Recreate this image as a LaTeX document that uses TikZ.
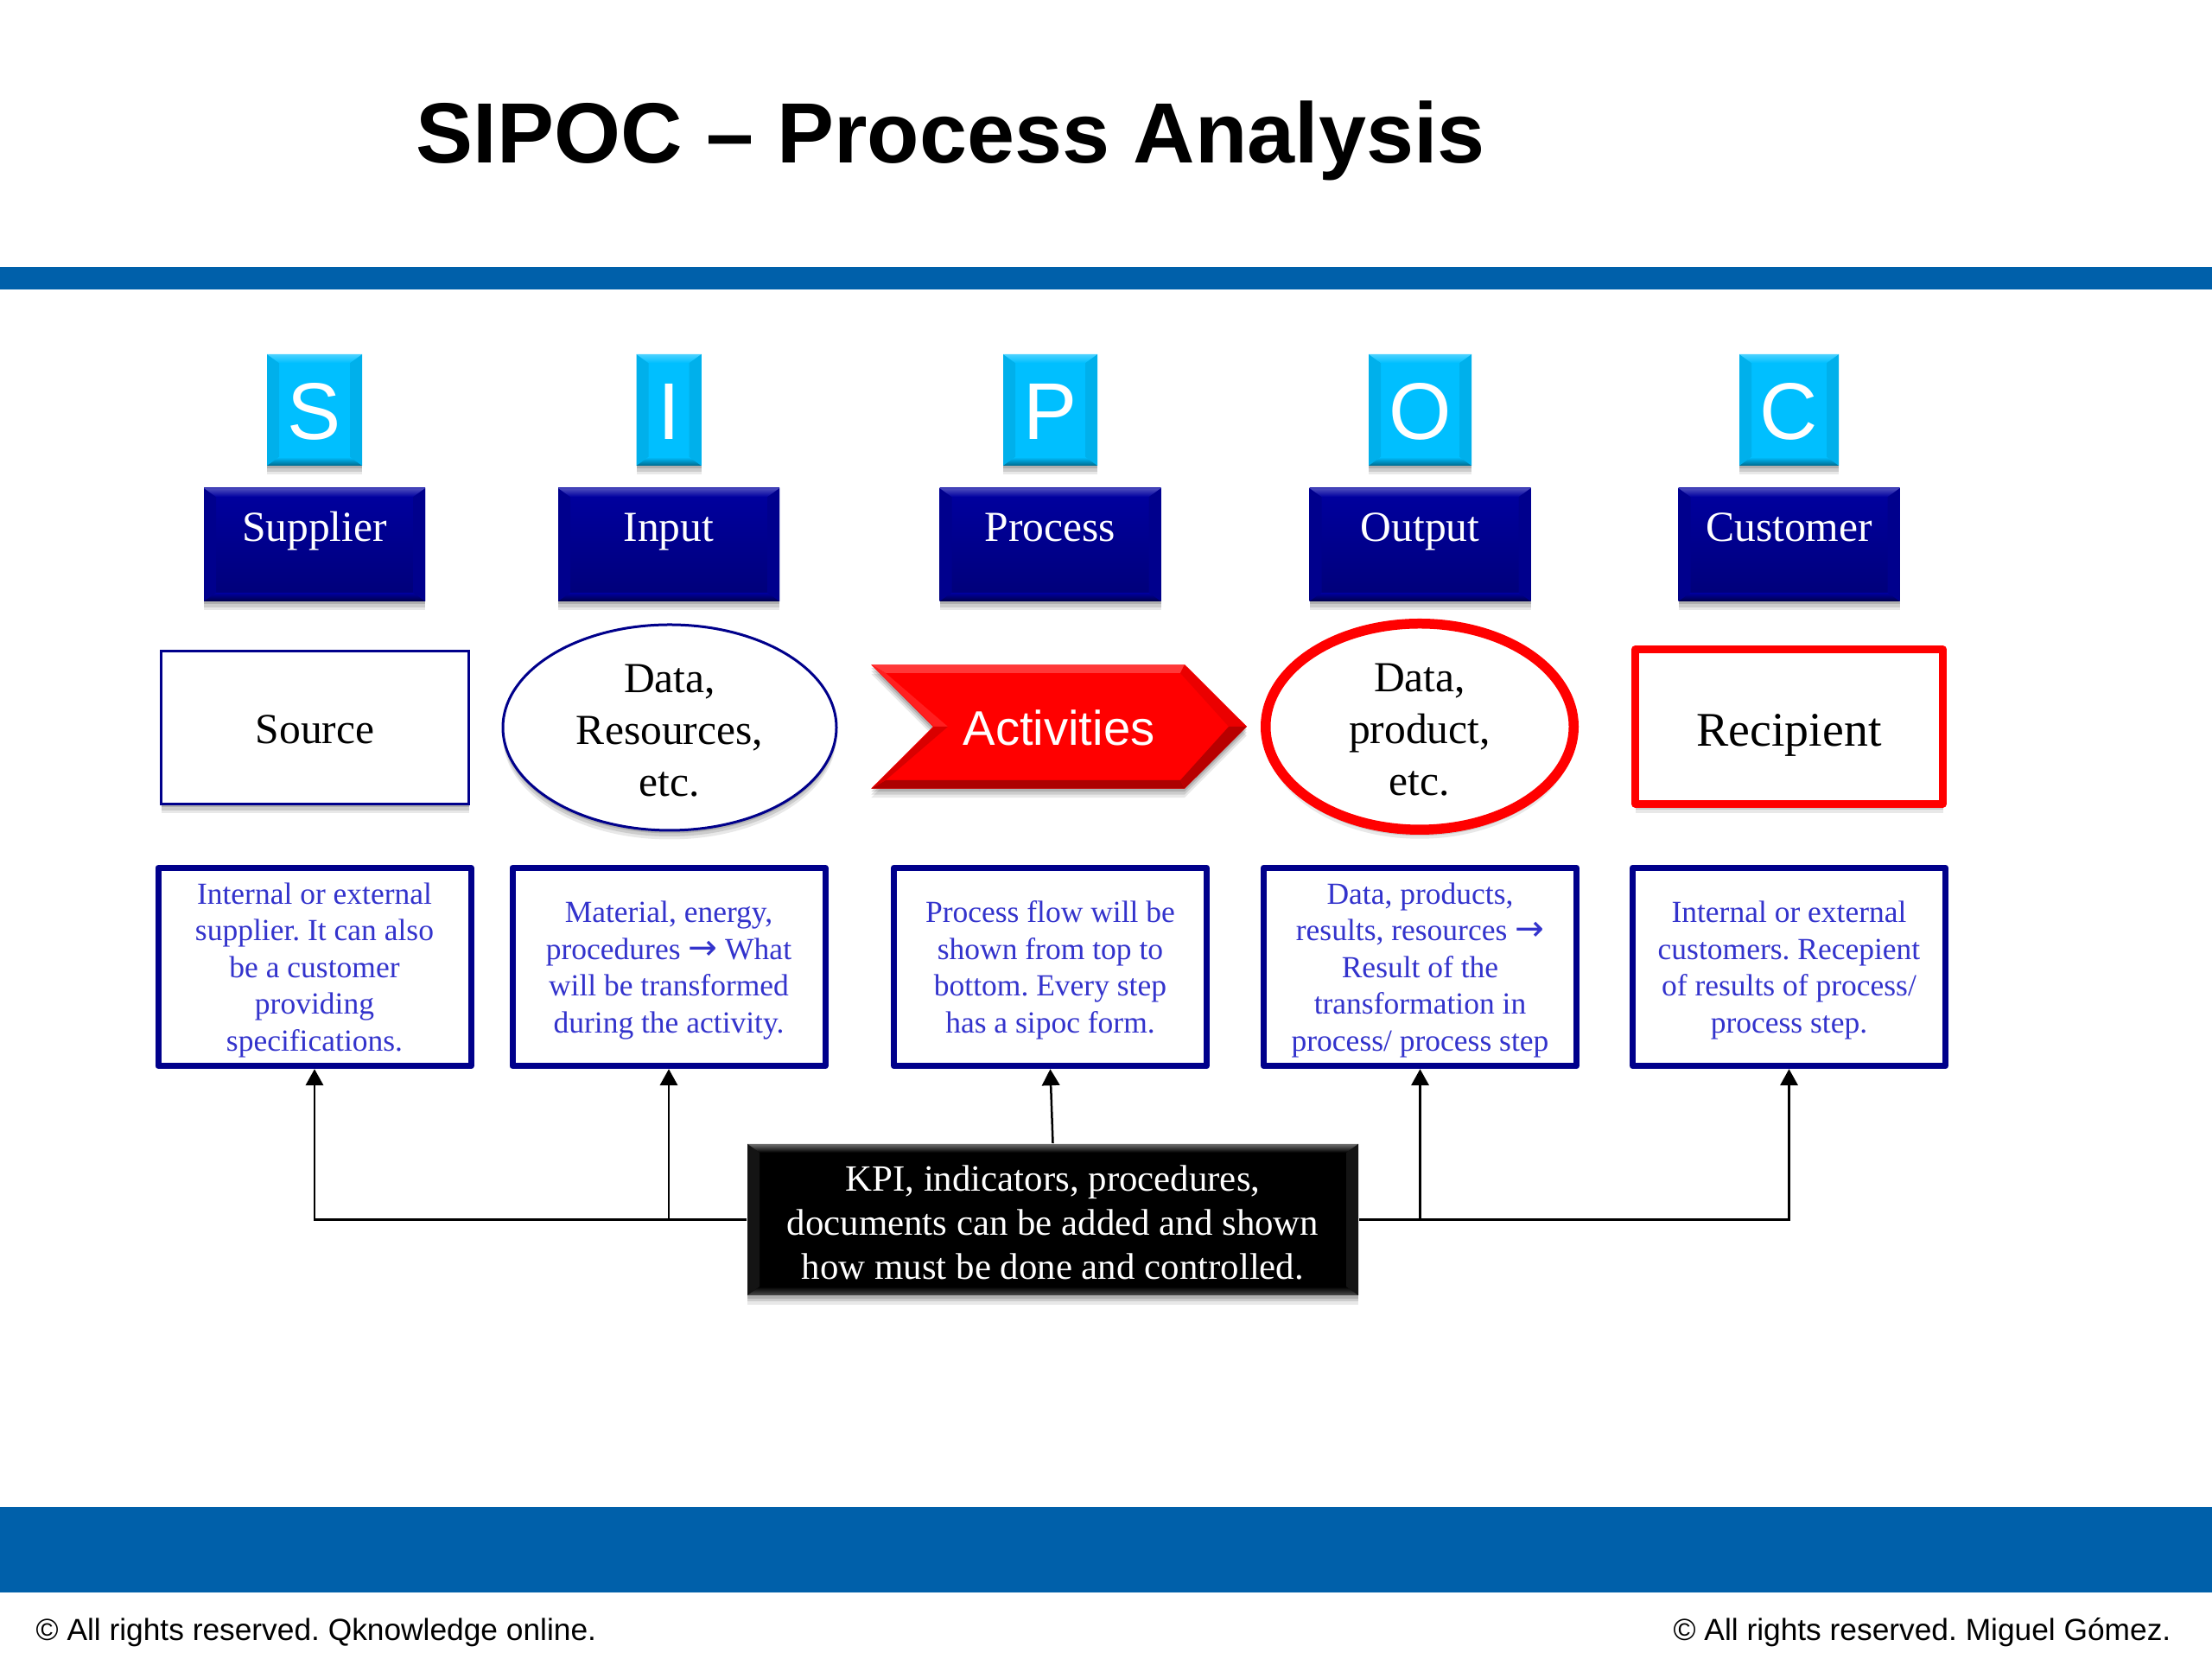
\documentclass[tikz,border=0pt]{standalone}
\usepackage{fontspec}
\setmainfont{Liberation Serif}
\setsansfont{Liberation Sans}
\newfontfamily\arrowfont{DejaVu Sans}
\usetikzlibrary{arrows.meta,shadows,shapes.geometric,shapes.symbols}
\definecolor{barblue}{RGB}{0,96,170}
\definecolor{deepnavy}{RGB}{0,0,139}
\definecolor{notetext}{RGB}{51,51,204}
\definecolor{tilecyan}{RGB}{0,191,255}
\definecolor{tilenavy}{RGB}{0,0,160}
\newcommand{\bevelfaces}[4]{%
	\coordinate (nw) at (path picture bounding box.north west);
	\coordinate (ne) at (path picture bounding box.north east);
	\coordinate (sw) at (path picture bounding box.south west);
	\coordinate (se) at (path picture bounding box.south east);
	\fill[#4] (nw)--(sw)--++(.14,.10)--([shift={(.14,-.10)}]nw)--cycle;
	\fill[#4] (ne)--(se)--++(-.14,.10)--([shift={(-.14,-.10)}]ne)--cycle;
	\shade[top color=#1,bottom color=#2] (nw)--(ne)--++(-.14,-.10)--([shift={(.14,-.10)}]nw)--cycle;
	\shade[top color=#2,bottom color=#3] (sw)--(se)--++(-.14,.10)--([shift={(.14,.10)}]sw)--cycle;
}
\newcommand{\notearrow}{{\arrowfont\fontsize{11.5}{12}\selectfont→}}
\tikzset{
	softshadow/.style={
		drop shadow={shadow xshift=0cm,shadow yshift=-.035cm,opacity=.14,fill=black},
		drop shadow={shadow xshift=0cm,shadow yshift=-.07cm,opacity=.12,fill=black},
		drop shadow={shadow xshift=0cm,shadow yshift=-.105cm,opacity=.09,fill=black}},
	bar/.style={fill=barblue,minimum width=25.6cm,inner sep=0pt},
	lettertile/.style={softshadow,fill=tilecyan,text=white,inner sep=0pt,minimum height=1.29cm,
		text height=19.6pt,text depth=0pt,font=\sffamily\fontsize{26.5}{30}\selectfont,
		path picture={\bevelfaces{tilecyan!70!white}{tilecyan}{tilecyan!55!black}{tilecyan!92!black}}},
	headertile/.style={softshadow,top color=tilenavy,bottom color=tilenavy!75!black,text=white,inner sep=0pt,minimum width=2.56cm,minimum height=1.31cm,
		text height=10pt,text depth=12.1pt,font=\fontsize{14.1}{17}\selectfont,
		path picture={\bevelfaces{tilenavy!70!white}{tilenavy}{tilenavy!45!black}{tilenavy!88!black}}},
	bigshape/.style={softshadow,fill=white,align=center,inner sep=-3pt,font=\fontsize{14.1}{17}\selectfont},
	notebox/.style={draw=deepnavy,line width=.07cm,line join=round,fill=white,align=center,inner sep=0pt,
		minimum width=3.62cm,minimum height=2.295cm,text=notetext,text depth=0pt,font=\fontsize{10.1}{12.1}\selectfont},
	link/.style={line width=.025cm,->},
	footnote/.style={font=\sffamily\fontsize{10.05}{12}\selectfont,inner sep=0pt}
}
\begin{document}
\frenchspacing
\begin{tikzpicture}[>={Triangle[length=5.4pt,width=5.8pt]}]
	\useasboundingbox (0,0) rectangle (25.6,19.2);
	\node[bar,minimum height=.26cm] (topbar) at (12.8,15.98) {};
	\node[bar,minimum height=.99cm] (bottombar) at (12.8,1.265) {};
	\node[anchor=base west,inner sep=0pt,font=\sffamily\bfseries\fontsize{28.15}{34}\selectfont] (title) at (4.81,17.31) {SIPOC -- Process Analysis};
	% letter tiles
	\node[lettertile,minimum width=1.10cm] (letterS) at (3.64,14.455) {S};
	\node[lettertile,minimum width=.75cm] (letterI) at (7.74,14.455) {I};
	\node[lettertile,minimum width=1.09cm] (letterP) at (12.155,14.455) {P};
	\node[lettertile,minimum width=1.19cm] (letterO) at (16.435,14.455) {O};
	\node[lettertile,minimum width=1.15cm] (letterC) at (20.705,14.455) {C};
	% headers
	\node[headertile] (supplier) at (3.64,12.895) {Supplier};
	\node[headertile] (input) at (7.74,12.895) {Input};
	\node[headertile] (process) at (12.155,12.895) {Process};
	\node[headertile] (output) at (16.435,12.895) {Output};
	\node[headertile] (customer) at (20.705,12.895) {Customer};
	% middle row
	\node[bigshape,draw=deepnavy,line width=.03cm,minimum width=3.56cm,minimum height=1.776cm,text height=10.7pt,text depth=0pt] (source) at (3.645,10.78) {Source};
	\node[bigshape,ellipse,draw=deepnavy,line width=.03cm,minimum width=3.86cm,minimum height=2.38cm,text height=45.2pt,text depth=0pt] (data) at (7.75,10.78) {Data,\\Resources,\\etc.};
	\node[softshadow,signal,signal from=west,signal to=east,signal pointer angle=90,fill=red,text=white,inner sep=0pt,
		minimum width=4.345cm,minimum height=1.434cm,text height=12.4pt,text depth=0pt,font=\sffamily\fontsize{16}{19}\selectfont] (activities) at (12.255,10.79) {Activities};
	\fill[red!78!white] (10.085,11.507)--(13.71,11.507)--(13.66,11.41)--(10.25,11.41)--cycle;
	\fill[red!68!black] (10.085,10.073)--(13.71,10.073)--(13.66,10.17)--(10.25,10.17)--cycle;
	\fill[red!92!black] (13.71,11.507)--(14.43,10.79)--(14.22,10.79)--(13.66,11.41)--cycle;
	\fill[red!72!black] (13.71,10.073)--(14.43,10.79)--(14.22,10.79)--(13.66,10.17)--cycle;
	\fill[red!88!white] (10.085,11.507)--(10.81,10.79)--(10.97,10.79)--(10.25,11.41)--cycle;
	\fill[red!85!black] (10.085,10.073)--(10.81,10.79)--(10.97,10.79)--(10.25,10.17)--cycle;
	\node[bigshape,ellipse,draw=red,line width=.115cm,minimum width=3.565cm,minimum height=2.385cm,text height=45.2pt,text depth=0pt] (product) at (16.43,10.79) {Data,\\product,\\etc.};
	\node[bigshape,draw=red,line width=.09cm,line join=round,minimum width=3.56cm,minimum height=1.785cm,text height=13pt,text depth=0pt,font=\fontsize{15.9}{19}\selectfont] (recipient) at (20.705,10.79) {Recipient};
	% notes
	\node[notebox] (notesupplier) at (3.64,8.01) {Internal or external\\supplier. It can also\\be a customer\\providing\\specifications.};
	\node[notebox] (noteinput) at (7.74,8.01) {Material, energy,\\procedures \notearrow{} What\\will be transformed\\during the activity.};
	\node[notebox] (noteprocess) at (12.155,8.01) {Process flow will be\\shown from top to\\bottom. Every step\\has a sipoc form.};
	\node[notebox] (noteoutput) at (16.435,8.01) {Data, products,\\results, resources \notearrow\\Result of the\\transformation in\\process/ process step};
	\node[notebox] (notecustomer) at (20.705,8.01) {Internal or external\\customers. Recepient\\of results of process/\\process step.};
	% kpi box
	\node[softshadow,fill=black,text=white,align=center,inner sep=0pt,minimum width=7.07cm,minimum height=1.754cm,
		text height=39.4pt,text depth=0pt,font=\fontsize{12.2}{14.6}\selectfont,
		path picture={\bevelfaces{black!55!white}{black}{black!70!white}{black!92!white}}] (kpi) at (12.185,5.085)
		{KPI, indicators, procedures,\\documents can be added and shown\\how must be done and controlled.};
	% arrows
	\draw[link] (kpi.west) -| (notesupplier.south);
	\draw[link] (kpi.west -| noteinput.south) -- (noteinput.south);
	\draw[link] (kpi.north) -- (noteprocess.south);
	\draw[link] (kpi.east) -| (notecustomer.south);
	\draw[link] (kpi.east -| noteoutput.south) -- (noteoutput.south);
	% footer
	\node[footnote,anchor=base west] (footleft) at (.41,.21) {© All rights reserved. Qknowledge online.};
	\node[footnote,anchor=base east] (footright) at (25.13,.21) {© All rights reserved. Miguel Gómez.};
\end{tikzpicture}
\end{document}
